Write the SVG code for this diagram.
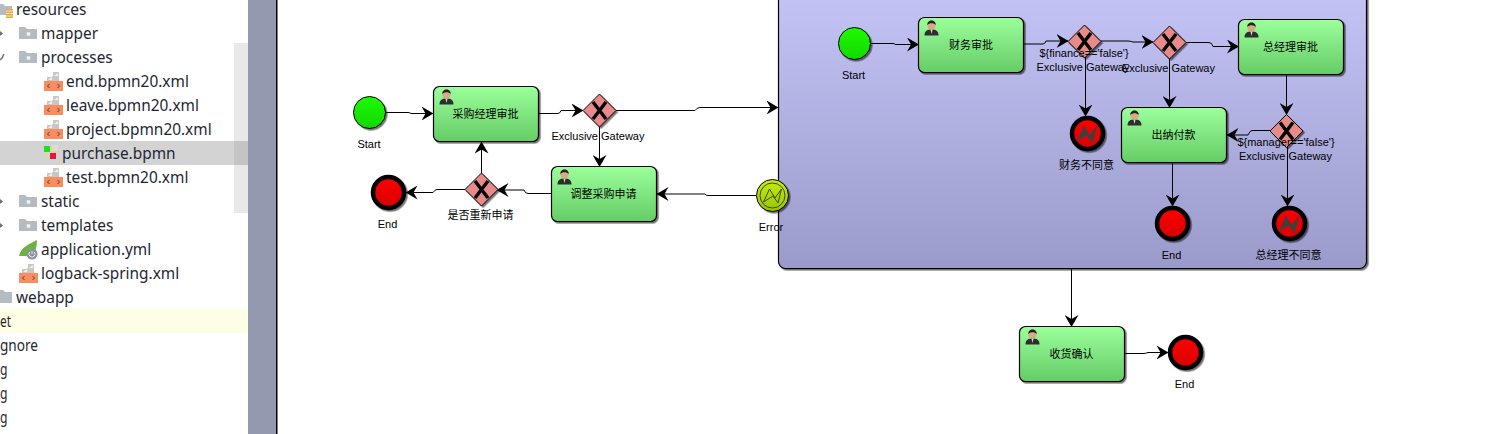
<svg xmlns="http://www.w3.org/2000/svg" xmlns:xlink="http://www.w3.org/1999/xlink" width="1495" height="434" viewBox="0 0 1495 434">
<style>
.tree{font:15.4px "Noto Sans","Liberation Sans",sans-serif;fill:#1d2733}
.lb{font:11px "Liberation Sans","Noto Sans CJK SC",sans-serif;fill:#000;text-anchor:middle}
.task{fill:url(#gTask);stroke:#000;stroke-width:1.2;filter:url(#sh)}
.start{fill:url(#gStart);stroke:#000;stroke-width:1;filter:url(#sh)}
.end{fill:url(#gEnd);stroke:#000;stroke-width:4.5;filter:url(#sh)}
.gw{fill:#e88a8a;stroke:#000;stroke-width:1;filter:url(#sh)}
.x{fill:none;stroke:#000;stroke-width:3.4}
.c{fill:none;stroke:#000;stroke-width:1;marker-end:url(#arr)}
.bolt{fill:#3f3f3f}
</style>
<defs>
<linearGradient id="gTask" x1="0" y1="0" x2="0" y2="1"><stop offset="0" stop-color="#9bff9b"/><stop offset="1" stop-color="#66cc66"/></linearGradient>
<linearGradient id="gSub" x1="0" y1="0" x2="0" y2="1"><stop offset="0" stop-color="#c8c8fa"/><stop offset="1" stop-color="#9a9acb"/></linearGradient>
<linearGradient id="gStart" x1="0" y1="0" x2="0" y2="1"><stop offset="0" stop-color="#20fa00"/><stop offset="1" stop-color="#10d800"/></linearGradient>
<linearGradient id="gEnd" x1="0" y1="0" x2="0" y2="1"><stop offset="0" stop-color="#ff0000"/><stop offset="1" stop-color="#d80000"/></linearGradient>
<linearGradient id="gErr" x1="0" y1="0" x2="0" y2="1"><stop offset="0" stop-color="#c8ec14"/><stop offset="1" stop-color="#98c400"/></linearGradient>
<filter id="sh" x="-20%" y="-20%" width="140%" height="140%"><feDropShadow dx="1.6" dy="1.6" stdDeviation="0.6" flood-color="#000" flood-opacity="0.55"/></filter>
<marker id="arr" viewBox="0 0 12 14" refX="11.5" refY="7" markerWidth="12" markerHeight="14" markerUnits="userSpaceOnUse" orient="auto"><path d="M0,0 L12,7 L0,14 L4,7 Z" fill="#000"/></marker>
<g id="user">
<path d="M0,15.500 C0,10.500 3,9.500 7,9.500 C11,9.500 14,10.500 14,15.500 Z" fill="#2e2e2e"/>
<path d="M6,9.500 L7,14 L8,9.500 Z" fill="#ddd"/>
<ellipse cx="7" cy="5" rx="4.200" ry="4.800" fill="#d8ab88"/>
<path d="M2.800,5 C2.500,-1 11.500,-1 11.200,5 C9,2.500 5,2.500 2.800,5 Z" fill="#222"/>
</g>
<path id="boltP" d="M-10.500,8 L-3.500,-8 L2,1.500 L10,-8 L5,9.500 L-1,2 Z"/>
<g id="folder"><path d="M0,0 H6 L8,2 H18 V12 H0 Z" fill="#b4bcc2"/><circle cx="9.500" cy="7" r="2" fill="#eef1f2"/></g>
<g id="xml"><path d="M3,9 V5 H7 L9,4 V0 H15 V9 Z" fill="#c8c8c8"/><path d="M4,8 L8,5 V8 Z M10,4 L14,1 V4 Z" fill="#f2f2f2"/><rect x="0" y="9" width="19" height="10" fill="#f98d60"/><path d="M5.500,12 L3.500,14 L5.500,16 M13.500,12 L15.500,14 L13.500,16" fill="none" stroke="#444" stroke-width="1"/></g>
</defs>

<rect width="1495" height="434" fill="#fff"/>

<g id="sidebar">
<rect x="0" y="141" width="248" height="24" fill="#d3d3d3"/>
<rect x="0" y="309" width="248" height="24" fill="#fefee4"/>
<rect x="234" y="43" width="14" height="170" fill="#7f7f7f" fill-opacity="0.18"/>
<rect x="248" y="0" width="28" height="434" fill="#939aaf"/>
<rect x="276" y="0" width="1.500" height="434" fill="#000"/>
<path d="M-2,4 H3 L5,6 H12 V15 H-2 Z" fill="#b4bcc2"/>
<path d="M6,9 H13 V18 H6 Z" fill="#e8a840"/>
<path d="M6,11 H13 M6,13.500 H13 M6,16 H13" stroke="#fff" stroke-width="0.7"/>
<use xlink:href="#folder" href="#folder" x="19" y="27"/>
<use xlink:href="#folder" href="#folder" x="19" y="51"/>
<use xlink:href="#xml" href="#xml" x="44" y="72"/>
<use xlink:href="#xml" href="#xml" x="44" y="96"/>
<use xlink:href="#xml" href="#xml" x="44" y="120"/>
<use xlink:href="#xml" href="#xml" x="44" y="168"/>
<use xlink:href="#folder" href="#folder" x="19" y="195"/>
<use xlink:href="#folder" href="#folder" x="19" y="219"/>
<use xlink:href="#xml" href="#xml" x="19" y="264"/>
<path d="M-3,290 H3 L5,292 H12 V303 H-3 Z" fill="#b4bcc2"/>
<rect x="52" y="145" width="6" height="6" fill="#dcdcdc"/>
<rect x="44" y="146" width="6" height="6" fill="#1fe01f"/>
<rect x="50" y="153" width="6" height="6" fill="#e8153a"/>
<path d="M47,152 V156 H50 M50,149 H54 V153" fill="none" stroke="#e6e63c" stroke-width="1"/>
<path d="M19,256 C21,247 29,244 37,240 C37,248 35,254 30,256 Z" fill="#6db33f"/>
<circle cx="32" cy="254" r="5.500" fill="#8a949c"/>
<path d="M32,251 V254 M29.800,252 A3,3 0 1 0 34.200,252" fill="none" stroke="#fff" stroke-width="0.8"/>
<path d="M0,31 L3,33.500 L0,36 Z M0,199 L3,201.500 L0,204 Z M0,223 L3,225.500 L0,228 Z" fill="#6e6e6e"/>
<path d="M0,60 L2,58 L4,54" fill="none" stroke="#6e6e6e" stroke-width="1.500"/>
<text class="tree" x="16" y="15">resources</text>
<text class="tree" x="41" y="39">mapper</text>
<text class="tree" x="41" y="63">processes</text>
<text class="tree" x="66" y="87">end.bpmn20.xml</text>
<text class="tree" x="66" y="111">leave.bpmn20.xml</text>
<text class="tree" x="66" y="135">project.bpmn20.xml</text>
<text class="tree" x="62" y="159">purchase.bpmn</text>
<text class="tree" x="66" y="183">test.bpmn20.xml</text>
<text class="tree" x="41" y="207">static</text>
<text class="tree" x="41" y="231">templates</text>
<text class="tree" x="41" y="255">application.yml</text>
<text class="tree" x="41" y="279">logback-spring.xml</text>
<text class="tree" x="16" y="303">webapp</text>
<text class="tree" x="0" y="327" textLength="11" lengthAdjust="spacingAndGlyphs">et</text>
<text class="tree" x="0" y="351" textLength="38" lengthAdjust="spacingAndGlyphs">gnore</text>
<text class="tree" x="0" y="375" textLength="7.500" lengthAdjust="spacingAndGlyphs">g</text>
<text class="tree" x="0" y="399" textLength="7.500" lengthAdjust="spacingAndGlyphs">g</text>
<text class="tree" x="0" y="423" textLength="7.500" lengthAdjust="spacingAndGlyphs">g</text>
</g>

<g id="subprocess"><rect x="778.500" y="-40" width="588" height="308.500" rx="7" fill="url(#gSub)" stroke="#000" stroke-width="1.200" filter="url(#sh)"/></g>

<g id="connectors">
<path class="c" d="M386,112.500 H408 Q410,112.500 411,113.500 H433"/>
<path class="c" d="M539,113.500 H558 Q560,113.500 561,110.500 H583"/>
<path class="c" d="M616,110.500 H695 Q697,107.500 700,107.500 H778"/>
<path class="c" d="M599.500,127 V166.500"/>
<path class="c" d="M756,195.500 H708 Q706,195.500 705,194 H657"/>
<path class="c" d="M551.500,193.500 H528 Q525,193.500 524,190 H497"/>
<path class="c" d="M465,189.500 H437 Q435,189.500 433,192.500 H406"/>
<path class="c" d="M481.500,173 V142"/>
<path class="c" d="M871,43.500 H893 Q895,43.500 895,44.500 H918.500"/>
<path class="c" d="M1023.500,44 H1043 Q1045,44 1046,41 H1068"/>
<path class="c" d="M1101,41 H1128 Q1130,41 1133,42 H1153"/>
<path class="c" d="M1186,42.500 H1209 Q1212,42.500 1213,46.500 H1238.500"/>
<path class="c" d="M1085.500,57 V116"/>
<path class="c" d="M1169.500,58 V107.500"/>
<path class="c" d="M1286.500,74.500 V114.500"/>
<path class="c" d="M1270.500,130.500 H1252 Q1250,130.500 1248,135 H1227"/>
<path class="c" d="M1287.500,147 V206"/>
<path class="c" d="M1172.500,162.500 V206"/>
<path class="c" d="M1071.500,269 V326.500"/>
<path class="c" d="M1125,353.500 H1143 Q1146,353.500 1148,352.500 H1168"/>
</g>

<g id="start1"><circle class="start" cx="369.500" cy="112.500" r="16"/><text class="lb" x="369" y="147.500">Start</text></g>
<g id="task1"><rect class="task" x="433.500" y="86.500" width="105" height="55" rx="6"/><use xlink:href="#user" href="#user" x="439.500" y="89"/><text class="lb" x="485.500" y="118">采购经理审批</text></g>
<g id="gw1"><path class="gw" d="M599.500,94 L616,110.500 L599.500,127 L583,110.500 Z"/><path class="x" d="M593,102 L606,119 M606,102 L593,119"/><text class="lb" x="598" y="139.500">Exclusive Gateway</text></g>
<g id="task2"><rect class="task" x="551.500" y="166.500" width="105" height="55" rx="6"/><use xlink:href="#user" href="#user" x="557.500" y="169"/><text class="lb" x="603.500" y="198">调整采购申请</text></g>
<g id="gw2"><path class="gw" d="M481.500,173 L498,189.500 L481.500,206 L465,189.500 Z"/><path class="x" d="M475,181 L488,198 M488,181 L475,198"/><text class="lb" x="480.500" y="219">是否重新申请</text></g>
<g id="end1"><circle class="end" cx="388.500" cy="192.500" r="15.500"/><text class="lb" x="387.500" y="228">End</text></g>
<g id="error1"><circle cx="772.500" cy="195.500" r="16" fill="url(#gErr)" stroke="#000" stroke-width="1" filter="url(#sh)"/><circle cx="772.500" cy="195.500" r="12.500" fill="none" stroke="#3a4a00" stroke-width="1"/><path d="M763.500,202 L769.500,189 L775,198 L781.500,189 L778,203 L773,196 Z" fill="none" stroke="#3a4a00" stroke-width="1"/><text class="lb" x="771" y="231">Error</text></g>

<g id="start2"><circle class="start" cx="854.500" cy="43.500" r="16"/><text class="lb" x="853.500" y="79">Start</text></g>
<g id="task3"><rect class="task" x="918.500" y="17.500" width="105" height="55" rx="6"/><use xlink:href="#user" href="#user" x="924.500" y="20"/><text class="lb" x="971" y="49">财务审批</text></g>
<g id="gw3"><path class="gw" d="M1084.500,25 L1101,41.500 L1084.500,58 L1068,41.500 Z"/><path class="x" d="M1078,33 L1091,50 M1091,33 L1078,50"/><text class="lb" x="1084" y="57">${finance=='false'}</text><text class="lb" x="1083" y="71">Exclusive Gateway</text></g>
<g id="gw4"><path class="gw" d="M1169.500,26 L1186,42.500 L1169.500,59 L1153,42.500 Z"/><path class="x" d="M1163,34 L1176,51 M1176,34 L1163,51"/><text class="lb" x="1168.500" y="72">Exclusive Gateway</text></g>
<g id="task4"><rect class="task" x="1238.500" y="19.500" width="105" height="55" rx="6"/><use xlink:href="#user" href="#user" x="1244.500" y="22"/><text class="lb" x="1290.500" y="51">总经理审批</text></g>
<g id="task5"><rect class="task" x="1121.500" y="107.500" width="105" height="55" rx="6"/><use xlink:href="#user" href="#user" x="1127.500" y="110"/><text class="lb" x="1173.500" y="139">出纳付款</text></g>
<g id="gw5"><path class="gw" d="M1286.500,114.500 L1303,131 L1286.500,147.500 L1270,131 Z"/><path class="x" d="M1280,122.500 L1293,139.500 M1293,122.500 L1280,139.500"/><text class="lb" x="1286" y="146">${manager=='false'}</text><text class="lb" x="1285.500" y="160">Exclusive Gateway</text></g>
<g id="errEnd1"><circle class="end" cx="1087.500" cy="133.500" r="15.500"/><use xlink:href="#boltP" href="#boltP" class="bolt" x="1087.500" y="133.500"/><text class="lb" x="1086.500" y="169">财务不同意</text></g>
<g id="errEnd2"><circle class="end" cx="1289.500" cy="223.500" r="15.500"/><use xlink:href="#boltP" href="#boltP" class="bolt" x="1289.500" y="223.500"/><text class="lb" x="1288.500" y="259">总经理不同意</text></g>
<g id="end2"><circle class="end" cx="1172.500" cy="223.500" r="15.500"/><text class="lb" x="1171.500" y="259">End</text></g>
<g id="task6"><rect class="task" x="1019.500" y="326.500" width="105" height="55" rx="6"/><use xlink:href="#user" href="#user" x="1025.500" y="329"/><text class="lb" x="1071.500" y="358">收货确认</text></g>
<g id="end3"><circle class="end" cx="1185.500" cy="352.500" r="15.500"/><text class="lb" x="1184.500" y="388">End</text></g>
</svg>
